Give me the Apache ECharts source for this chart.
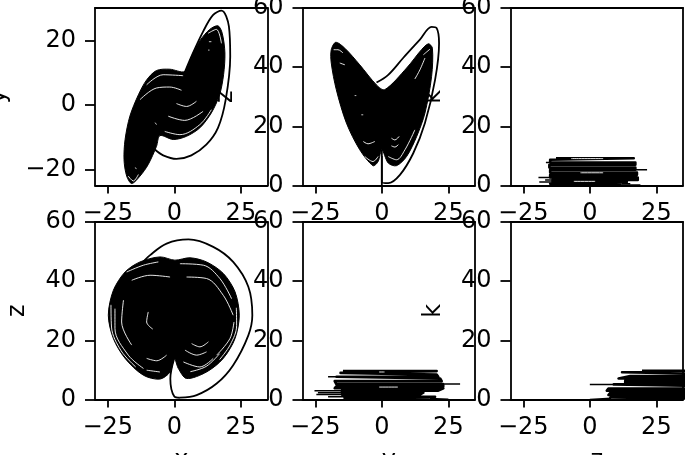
<!DOCTYPE html>
<html><head><meta charset="utf-8">
<style>html,body{margin:0;padding:0;background:#fff;overflow:hidden}#c{width:685px;height:455px;filter:blur(0.45px)}</style>
<script src="https://cdn.jsdelivr.net/npm/echarts@6/dist/echarts.min.js"></script>
</head><body><div id="c"></div>
<script>
const xTicks=[-25,0,25];
const yTicksXY=[-20,0,20];
const zTicks=[0,20,40,60];

// y against x
const xyMass=[[-6.7,10.7],[-1.7,11.1],[3.9,10.4],[6.4,15],[9.6,19.9],[13.3,23.4],[16.4,24.5],[18,22.2],[19,16.1],[18.5,9.4],[17,3.2],[13.9,-2.4],[9.6,-7],[4.6,-9.6],[-0.4,-10.6],[-5.4,-9.4],[-6.7,-12.7],[-9.8,-18.3],[-12.9,-21.9],[-16,-24.2],[-17.9,-21.9],[-18.9,-16.8],[-18.5,-10.6],[-16.7,-3.4],[-13.5,3.2],[-10.4,7.8]];
const xyOrbit=[[-7.3,-13.7],[-4.2,-15.5],[0.8,-16.6],[6.4,-15.5],[12,-12.2],[16.4,-7],[19.3,1.7],[21,15],[20.5,24.3],[17.7,29.2],[14.5,27.8],[10.8,22.7],[6.4,15],[3.3,8.9]];
const xyGaps=[
 [[-12.9,1.7],[-6.7,5.3],[-1.7,5.6],[2.7,4.6]],
 [[-10.4,6.3],[-4.2,9.4],[3.3,9.1]],
 [[0.8,0.5],[4.6,-0.4],[8.3,1.2]],
 [[-2.3,-3.4],[3.9,-4.7],[10.8,-1.9]],
 [[-3.6,-8.1],[2.1,-9.1],[9.6,-6],[13.9,-1.4]],
 [[12.7,22.2],[15.8,23.4],[17.7,19.1]],
 [[-7.2,-5.4],[-6.7,-6]],
 [[-14.8,-19.3],[-14.2,-19.6]],
 [[-17.3,-21.9],[-15.4,-23.4],[-13.5,-21.4]],
 [[13,19.6],[13.9,19.6]],
 [[12.7,17],[13.2,17]]
];

// z against x
const xzMass=[[-17.3,48.4],[-19,45.9],[-19,41.4],[-17.1,32.4],[-13.3,21.1],[-8.3,12.1],[-3.3,6.7],[-1.4,8.1],[0,12.1],[2.4,7.6],[5.5,6.7],[9.3,9.8],[13.1,16.6],[16.2,24.5],[18.7,36.9],[19,46.4],[17.5,47.9],[14.9,45.9],[9.3,39.7],[1.1,32.4],[-2,34],[-8.3,40.8],[-13.9,46.4]];
const xzOrbit=[[0,10],[0,1],[2.4,0.8],[6.8,3.6],[11.8,10.9],[16.2,21.1],[20,35.7],[21.5,48.1],[20.6,53.2],[18.7,53.6],[14.3,49.3],[8,43.1],[2.4,37.4],[-2,34.8]];
const xzStem=[[0,0],[0,12]];
const xzGaps=[
 [[-7,14.9],[-5.2,14.1],[-2.6,14.9]],
 [[-6.4,9.8],[-3.3,8.1],[-1.4,9.8]],
 [[2.4,9.8],[5.5,8.7],[8.7,12.1],[12.4,18.8]],
 [[3.6,16],[4.9,15.4],[6.5,16.6]],
 [[3.6,13.4],[4.9,13],[6.2,13.8]],
 [[-18.1,45.9],[-16.5,45.9],[-14.6,44.8]],
 [[-15.8,41.4],[-13.9,40.8]],
 [[12.4,36],[14.3,39.1],[16.2,43.1]],
 [[15.6,44.2],[18.1,46.1]],
 [[-10.2,30.4],[-9.6,30.4]],
 [[-7.7,23.9],[-7,23.9]]
];

// z against y
const yzMass=[[-5.4,48.2],[0.2,47.1],[5.9,47.9],[12.1,46.5],[18.4,42.6],[22.8,36.4],[24.4,28.5],[22.8,20.6],[18.4,13.9],[12.1,9.3],[4.6,7.1],[1.5,10.5],[0,13.9],[-1.6,9.3],[-5.4,6.9],[-11.6,8.2],[-18.5,13.9],[-22.9,20.6],[-24.8,28.5],[-22.9,36.9],[-18.5,43.1],[-12.9,46.5]];
const yzOrbit=[[2.1,0.6],[8.4,1.5],[15.9,5.4],[22.1,11.6],[27.8,21.7],[29.3,28.5],[27.8,38.1],[22.1,46.5],[14.6,51.6],[5.3,54.1],[-2.9,52.7],[-9.1,48.8],[-12.9,45.4]];
const yzStem=[[0,14],[-1.5,7],[0,1],[2.1,0.6]];
const yzGaps=[
 [[-16,40.3],[-9.1,42],[-1.6,41.4]],
 [[4.6,41.4],[12.1,40.9],[18.4,35.2],[22.1,28.5]],
 [[22.4,26.2],[20.9,20.6],[15.9,15]],
 [[3.4,12.7],[9.6,11],[14.6,13.9]],
 [[4,16.7],[8.4,15],[12.1,16.1]],
 [[-10.4,13.9],[-6.6,13.1],[-2.9,15]],
 [[-10.4,9.9],[-5.4,9.3]],
 [[-19.1,33.6],[-19.8,26.2],[-16,18.4]],
 [[-22.3,30.7],[-22.3,24],[-17.3,15],[-11.6,10.5]],
 [[-17.9,43.1],[-11.6,45.4],[-6,46.5]],
 [[2.1,45.9],[10.9,45.4],[17.1,40.9],[21.5,34.1]],
 [[-9.8,29.6],[-10.4,26.2],[-8.1,23.8]],
 [[6.5,18.9],[9.6,17.8],[12.8,19.5]],
 [[23.3,31],[23.4,25],[21,18.5],[17,13.5]],
 [[-23.8,32],[-23.6,24.5],[-20,16.5],[-14.5,11]],
 [[6,9.4],[12,11.2],[17,15.5]]
];

// k against x, y and z: back-and-forth sweeps
const xkSweep=[[-12.7,9.2],[16.5,9.2],[16.5,8.7],[-14.9,8.7],[-14.9,7.8],[17.1,7.8],[17.1,7],[-15.2,7],[-15.2,6.1],[17.1,6.1],[17.1,5.3],[-14.9,5.3],[-14.9,4.4],[17.7,4.4],[17.7,3.6],[-14.9,3.6],[-14.9,2.7],[18,2.7],[18,1.9],[-14,1.9],[-14,1.2],[13.9,1.2],[13.9,0.6],[-14.9,0.6],[-14.9,0.2],[12,0.2]];
const ykSweep=[[-14.6,9.6],[20.6,9.6],[20,9],[-15.5,9],[-15.5,8.4],[20.6,8.4],[21.2,7.7],[-17,7.7],[-17.7,7.1],[21.9,7.1],[22.5,6.2],[-17.7,6.2],[-17.1,5.2],[23,5.2],[23.1,4.5],[-17.1,4.5],[-17.7,3.8],[23.1,3.8],[21.2,3],[-15,3],[-15,2.3],[15.6,2.3],[14.3,1.7],[-15,1.7],[-14,0.9],[20,0.9],[20,0.5],[-14,0.5],[-14,0.1],[18,0.1]];
const zkSweep=[[19.6,9.7],[45,9.7],[45,9.2],[12.1,9.2],[12.7,8.6],[45,8.6],[45,7.9],[15.2,7.9],[10.8,7.1],[45,7.1],[45,6.3],[13.3,6.3],[13.3,5.6],[45,5.6],[45,5.1],[9,5.1],[8.9,4.5],[45,4.5],[45,3.7],[7,3.7],[6.4,3],[45,3],[45,2.3],[7.7,2.3],[7,1.5],[45,1.5],[45,0.7],[7.7,0.7],[7,0.2],[45,0.2]];
const xkThin=[[[17,5.3],[21.5,5.3]],[[-19.3,2.7],[-14,2.7]],[[-19,1.2],[-14,1.2]],[[-16.8,1.9],[-14,1.9]],[[-16.5,7.8],[-14.9,7.8]],[[12,0.2],[19,0.2]],[[12,0.6],[15.2,0.6]]];
const ykThin=[[[23,5.2],[29.4,5.2]],[[-25.3,3],[-15,3]],[[-24,2.3],[-15,2.3]],[[-24.6,1.7],[-15,1.7]],[[-20.2,7.7],[-17,7.7]],[[-20.2,0.9],[-14,0.9]],[[18,0.3],[25,0.1]]];
const zkThin=[[[0,5.1],[9,5.1]],[[0,0],[8,0.4]]];
const xkGaps=[[[-7,9.1],[5,9.1]],[[-3.5,4.3],[5,4.3]],[[-6,1.4],[2,1.4]]];
const ykGaps=[[[-1,9.3],[1,9.3]],[[-1,4.2],[6,4.2]]];
const zkGaps=[];

const panels=[
 {left:95,top:8,xn:'',yn:'y',yGap:84,ymin:-24.8,ymax:30,yt:yTicksXY,mass:xyMass,orbits:[xyOrbit],gaps:xyGaps},
 {left:302.5,top:8,xn:'',yn:'z',yGap:65,ymin:0,ymax:60,yt:zTicks,mass:xzMass,orbits:[xzOrbit,xzStem],gaps:xzGaps},
 {left:510.5,top:8,xn:'',yn:'k',yGap:65,ymin:0,ymax:60,yt:zTicks,sweep:xkSweep,thin:xkThin,gaps:xkGaps},
 {left:95,top:222,xn:'x',yn:'z',yGap:65,ymin:0,ymax:60,yt:zTicks,mass:yzMass,orbits:[yzOrbit,yzStem],gaps:yzGaps},
 {left:302.5,top:222,xn:'y',yn:'',yGap:65,ymin:0,ymax:60,yt:zTicks,sweep:ykSweep,thin:ykThin,gaps:ykGaps},
 {left:510.5,top:222,xn:'z',yn:'k',yGap:65,ymin:0,ymax:60,yt:zTicks,sweep:zkSweep,thin:zkThin,gaps:zkGaps}
];
const W=172.5,H=177.5,FS=24,FONT='"DejaVu Sans"';
const fmt=v=>String(v).replace('-','\u2212');
const grid=[],xAxis=[],yAxis=[],series=[];
function line(i,data,color,width,smooth){
 series.push({type:'line',xAxisIndex:i,yAxisIndex:i,data,symbol:'none',smooth:smooth?0.35:false,silent:true,animation:false,clip:true,
  lineStyle:{color,width,join:'round'}});
}
panels.forEach((p,i)=>{
 grid.push({left:p.left,top:p.top,width:W,height:H,show:false,outerBoundsMode:'none',containLabel:false});
 const ax=(ticks,margin,tick,extra)=>Object.assign({type:'value',splitLine:{show:false},
  axisLine:{show:true,onZero:false,lineStyle:{color:'#000',width:1.8}},
  axisTick:{show:true,length:tick,customValues:ticks,lineStyle:{color:'#000',width:1.8}},
  axisLabel:{customValues:ticks,formatter:fmt,color:'#000',fontFamily:FONT,fontSize:FS,margin,hideOverlap:false},
  nameLocation:'middle',nameTextStyle:{color:'#000',fontFamily:FONT,fontSize:FS}},extra);
 xAxis.push(ax(xTicks,16,8,{min:-29.8,max:35,name:p.xn,nameGap:49}));
 yAxis.push(ax(p.yt,19,10,{min:p.ymin,max:p.ymax,name:p.yn,nameGap:p.yGap,nameRotate:90}));
 xAxis.push(ax([],8,8,{position:'top',min:-29.8,max:35,axisTick:{show:false},axisLabel:{show:false},name:''}));
 yAxis.push(ax([],8,8,{position:'right',min:p.ymin,max:p.ymax,axisTick:{show:false},axisLabel:{show:false},name:''}));
});
panels.forEach((p,n)=>{
 const i=n*2;
 if(p.mass){
  const m=p.mass;
  series.push({type:'custom',xAxisIndex:i,yAxisIndex:i,data:m,silent:true,animation:false,
   encode:{x:0,y:1},
   renderItem:(params,api)=>params.dataIndex?null:({type:'polygon',
     shape:{points:m.map(v=>api.coord(v)),smooth:0.3},style:{fill:'#000',stroke:'#000',lineWidth:1}})});
 }
 (p.orbits||[]).forEach(o=>line(i,o,'#000',1.8,true));
 if(p.sweep)line(i,p.sweep,'#000',2.6,false);
 (p.thin||[]).forEach(o=>line(i,o,'#000',1.5,false));
 p.gaps.forEach(g=>line(i,g,'#fff',0.9,true));
});
const chart=echarts.init(document.getElementById('c'),null,{renderer:'canvas'});
chart.setOption({animation:false,backgroundColor:'#fff',grid,
 xAxis:xAxis.map((a,k)=>Object.assign(a,{gridIndex:Math.floor(k/2)})),
 yAxis:yAxis.map((a,k)=>Object.assign(a,{gridIndex:Math.floor(k/2)})),series});
</script></body></html>
